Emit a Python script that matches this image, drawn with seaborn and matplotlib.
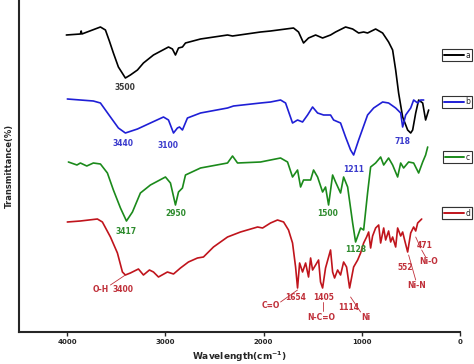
import pandas as pd
import numpy as np
import matplotlib
matplotlib.use("Agg")
import matplotlib.pyplot as plt
import seaborn as sns
from matplotlib.lines import Line2D

# FTIR spectra, stacked (transmittance in arbitrary offset units)
wn_a = [4008, 3865, 3857, 3850, 3661, 3610, 3570, 3529, 3478, 3407, 3356, 3284, 3223, 3121,
        2968, 2928, 2897, 2866, 2826, 2795, 2642, 2367, 2316, 2031, 1929, 1695, 1644, 1593,
        1542, 1470, 1399, 1318, 1267, 1165, 1093, 1032, 981, 941, 859, 788, 727, 686, 655,
        625, 584, 533, 502, 482, 451, 421, 380, 350, 319]
t_a = [297, 298, 301, 298, 305, 302, 291, 279, 265, 254, 257, 262, 269, 277,
       285, 283, 277, 284, 285, 289, 293, 297, 296, 300, 301, 304, 300, 289,
       294, 297, 294, 297, 300, 305, 303, 299, 300, 299, 303, 299, 290, 282, 262,
       239, 215, 202, 199, 202, 219, 232, 229, 212, 222]

wn_b = [3998, 3733, 3661, 3610, 3559, 3478, 3407, 3284, 3152, 3019, 2968, 2917, 2877, 2856,
        2826, 2775, 2642, 2367, 2306, 2031, 1929, 1827, 1776, 1705, 1654, 1603, 1552, 1501,
        1450, 1389, 1318, 1287, 1216, 1165, 1114, 1083, 1032, 941, 879, 788, 727, 655, 604,
        584, 553, 502, 472, 431, 400, 370]
t_b = [233, 231, 229, 222, 215, 204, 199, 203, 209, 215, 212, 199, 204, 205,
       202, 214, 219, 224, 226, 229, 230, 232, 229, 209, 212, 210, 217, 225,
       219, 217, 217, 212, 209, 195, 182, 177, 192, 217, 224, 230, 229, 224, 219,
       205, 217, 224, 232, 229, 232, 232]

wn_c = [3987, 3900, 3865, 3800, 3733, 3661, 3590, 3529, 3457, 3396, 3335, 3254, 3152, 2999,
        2948, 2897, 2866, 2826, 2795, 2642, 2367, 2316, 2265, 2031, 1929, 1827, 1756, 1705,
        1654, 1623, 1593, 1521, 1491, 1450, 1399, 1369, 1338, 1297, 1267, 1216, 1185, 1144,
        1093, 1063, 1012, 981, 941, 910, 859, 808, 777, 727, 686, 635, 604, 574, 523, 472,
        421, 380, 350, 329]
t_c = [170, 167, 169, 166, 169, 168, 159, 142, 124, 111, 120, 139, 147, 155,
       149, 127, 140, 144, 157, 164, 169, 176, 169, 170, 172, 174, 170, 155,
       162, 145, 152, 152, 162, 155, 140, 145, 127, 157, 150, 139, 155, 145,
       109, 90, 104, 102, 139, 165, 169, 175, 167, 174, 167, 155, 169, 164, 170, 169,
       159, 170, 177, 185]

wn_d = [3998, 3865, 3692, 3641, 3559, 3488, 3437, 3407, 3356, 3274, 3223, 3162, 3121, 3070,
        2979, 2917, 2846, 2765, 2673, 2612, 2510, 2367, 2235, 2061, 2010, 1929, 1858, 1796,
        1746, 1705, 1674, 1654, 1633, 1603, 1572, 1542, 1521, 1501, 1470, 1440, 1420, 1399,
        1369, 1318, 1297, 1277, 1246, 1216, 1185, 1155, 1124, 1083, 1042, 1012, 981, 951,
        930, 910, 890, 859, 828, 808, 777, 757, 727, 706, 686, 655, 635, 604, 584, 564, 533,
        502, 472, 451, 431, 400, 390]
t_d = [110, 111, 113, 110, 95, 79, 60, 57, 59, 63, 57, 62, 60, 55,
       60, 58, 64, 70, 74, 75, 85, 95, 100, 105, 104, 109, 112, 110,
       102, 89, 65, 44, 69, 60, 69, 55, 74, 62, 67, 72, 50, 44,
       64, 82, 60, 54, 62, 57, 70, 65, 44, 65, 72, 79, 89, 95,
       100, 84, 96, 104, 107, 89, 104, 92, 101, 90, 95, 85, 104, 96, 100, 92, 80,
       99, 105, 101, 109, 112, 113]

series = ["a", "b", "c", "d"]
colors = ["#000000", "#1f1fd6", "#1b8a1b", "#c0141c"]
text_colors = ["#3a3a3a", "#3b3bcc", "#2e8b2e", "#c0303a"]

# peak labels: (series, text, x, y)
peak_labels = [
    ("a", "3500", 3407, 244),
    ("b", "3440", 3427, 189), ("b", "3100", 2968, 186),
    ("b", "1211", 1083, 162), ("b", "718", 584, 190),
    ("c", "3417", 3396, 101), ("c", "2950", 2897, 119),
    ("c", "1500", 1348, 119), ("c", "1128", 1063, 83),
    ("d", "O-H", 3661, 43), ("d", "3400", 3427, 43),
    ("d", "1654", 1674, 34), ("d", "C=O", 1929, 26),
    ("d", "1405", 1389, 35), ("d", "N-C=O", 1409, 15),
    ("d", "1114", 1134, 24), ("d", "Ni", 961, 14),
    ("d", "552", 553, 64), ("d", "Ni-N", 441, 46),
    ("d", "471", 360, 87), ("d", "Ni-O", 319, 70),
]
# leader lines for the red assignments
leaders = [((3559, 47), (3407, 57)), ((1827, 30), (1654, 42)),
           ((1399, 30), (1399, 21)), ((1114, 35), (1012, 20)),
           ((523, 77), (451, 52)), ((451, 95), (400, 84)),
           ((390, 82), (350, 75))]

frames = []
for name, wn, t in zip(series, [wn_a, wn_b, wn_c, wn_d], [t_a, t_b, t_c, t_d]):
    frames.append(pd.DataFrame({"wn": wn, "T": t, "sample": name}))
df = pd.concat(frames, ignore_index=True)

sns.set_style("ticks")
fig = plt.figure(figsize=(4.74, 3.64), dpi=100)
ax = fig.add_axes([19 / 474, 32 / 364, 441 / 474, 332 / 364])

for name, col in zip(series, colors):
    sub = df[df["sample"] == name]
    sns.lineplot(data=sub, x="wn", y="T", color=col, lw=1.2, sort=False,
                 estimator=None, ax=ax, legend=False)

tcol = dict(zip(series, text_colors))
for s, txt, x, y in peak_labels:
    ax.text(x, y, txt, color=tcol[s], fontsize=5.5, fontweight="bold",
            ha="center", va="center")
for (x0, y0), (x1, y1) in leaders:
    ax.plot([x0, x1], [y0, y1], color=tcol["d"], lw=0.6)

ax.set_xlim(4490, 0)
ax.set_ylim(0, 332)
ax.set_xticks([4000, 3000, 2000, 1000, 0])
ax.set_xticklabels(["4000", "3000", "2000", "1000", "0"], fontsize=5, fontweight="bold")
ax.set_yticks([])
ax.tick_params(axis="x", length=3, width=1, pad=2)
ax.set_xlabel("Wavelength(cm$^{\\mathbf{-1}}$)", fontsize=6.5, fontweight="bold", labelpad=3)
ax.set_ylabel("Transmittance(%)", fontsize=6, fontweight="bold", labelpad=4)
for sp in ["top", "right"]:
    ax.spines[sp].set_visible(False)
for sp in ["left", "bottom"]:
    ax.spines[sp].set_linewidth(1.5)

# separate boxed legend entries on the right
box_y = [55, 102, 157, 213]
for name, col, yy in zip(series, colors, box_y):
    h = Line2D([], [], color=col, lw=1.4)
    lg = ax.legend([h], [name], loc="center right",
                   bbox_to_anchor=(472 / 474, 1 - yy / 364),
                   bbox_transform=fig.transFigure, fontsize=5.5, frameon=True,
                   fancybox=False, edgecolor="#333333", framealpha=1,
                   handlelength=2.6, handletextpad=0.2, borderpad=0.25,
                   borderaxespad=0)
    lg.get_frame().set_linewidth(0.8)
    ax.add_artist(lg)

fig.savefig("out.png", dpi=100)
